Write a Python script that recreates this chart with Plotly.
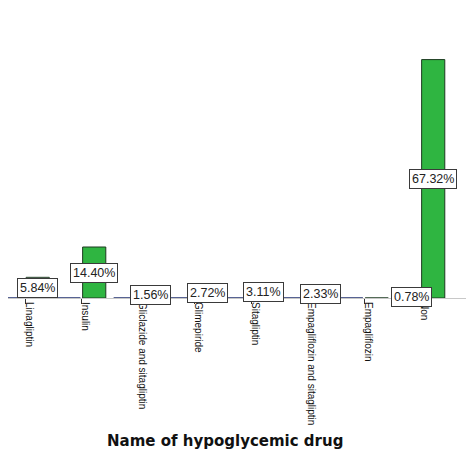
import plotly.graph_objects as go

categories = ["Linagliptin", "Insulin", "Gliclazide and sitagliptin", "Glimepiride",
              "Sitagliptin", "Empagliflozin and sitagliptin", "Empagliflozin", "Non"]
series_left = [0, 0, 0, 0, 0, 0, 0, 0.78]
series_right = [5.84, 14.40, 1.56, 2.72, 3.11, 2.33, 0, 67.32]
x_title = "Name of hypoglycemic drug"

idx = list(range(len(categories)))
W = 0.41
OFF_L = -0.43
OFF_R = 0.02

green = "#2fb541"
outline = "#1d3a20"
right_colors = ["#ffffff"] + [green] * (len(categories) - 1)

fig = go.Figure()
fig.add_trace(go.Bar(x=idx, y=series_left, width=W, offset=OFF_L,
                     marker=dict(color="#1f2f6e", line=dict(color="#1f2f6e", width=1)),
                     showlegend=False, hoverinfo="skip"))
fig.add_trace(go.Bar(x=idx, y=series_right, width=W, offset=OFF_R,
                     marker=dict(color=right_colors, line=dict(color=outline, width=1)),
                     showlegend=False, hoverinfo="skip"))

box = dict(showarrow=False, bgcolor="white", bordercolor="#3a3a3a", borderwidth=1,
           borderpad=2, font=dict(family="Liberation Sans, Arial", size=12.5, color="#222"))
for i, v in zip(idx, series_right):
    if v > 0:
        fig.add_annotation(x=i + OFF_R + W / 2, y=v / 2, text=f"{v:.2f}%", **box)
for i, v in zip(idx, series_left):
    if v > 0:
        fig.add_annotation(x=i + OFF_L + W / 2, y=v / 2, text=f"{v:.2f}%", xshift=4, **box)

fig.add_annotation(x=0.466, y=-0.554, xref="paper", yref="paper", showarrow=False,
                   text="<b>" + x_title + "</b>",
                   font=dict(family="DejaVu Sans", size=15, color="#111"))

fig.update_layout(
    width=474, height=474,
    margin=dict(l=0, r=8, t=12, b=184, autoexpand=False),
    paper_bgcolor="white", plot_bgcolor="white",
    barmode="overlay",
    xaxis=dict(range=[-0.301, 7.947], tickmode="array", tickvals=idx, ticktext=categories,
               tickangle=90, showline=True, linecolor="#c8c8c8", linewidth=1,
               ticks="outside", ticklen=5, tickcolor="#333", showgrid=False, zeroline=False,
               automargin=False, ticklabelshift=4, ticklabelstandoff=-4,
               tickfont=dict(family="Liberation Sans, Arial", size=10, color="#111")),
    yaxis=dict(range=[0, 78.5], visible=False, showgrid=False, zeroline=False),
)

fig.write_html("out.html")
